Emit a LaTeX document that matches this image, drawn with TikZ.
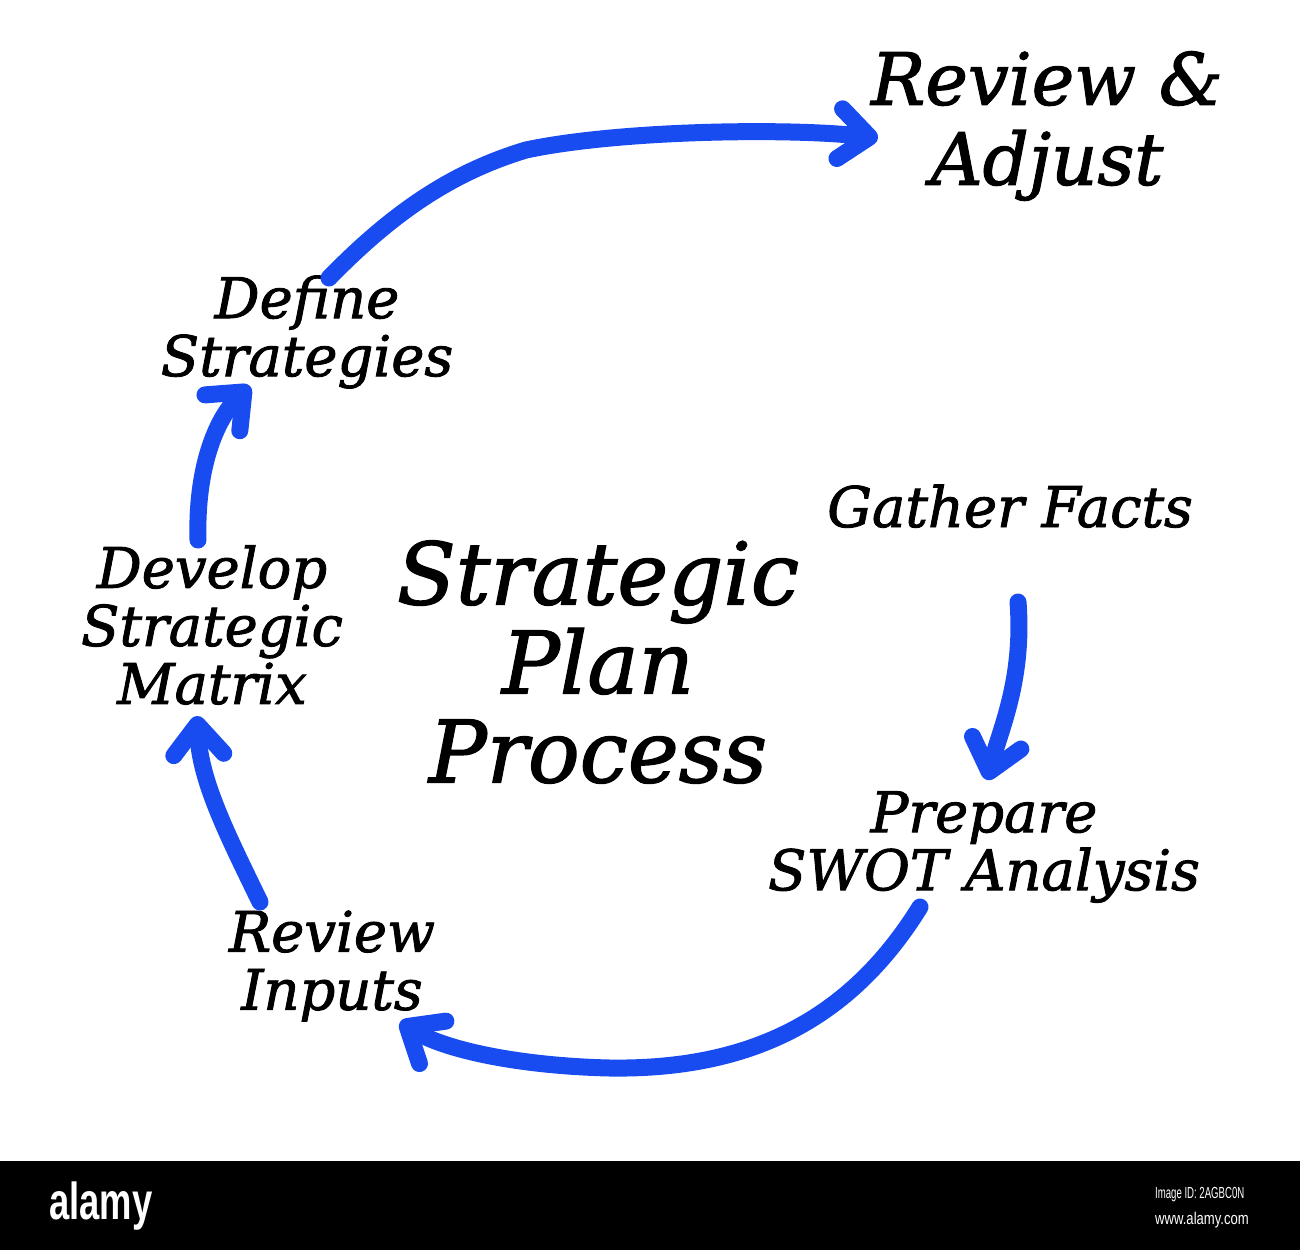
\documentclass[tikz,border=0pt]{standalone}
\usepackage{fontspec}
\setmainfont{DejaVu Serif}[ItalicFeatures={FakeBold=1.6}]
\newfontfamily\wmfont{Liberation Sans}
\usetikzlibrary{arrows.meta}
\definecolor{arrowblue}{RGB}{24,76,240}
\begin{document}
\begin{tikzpicture}[x=1pt,y=-1pt,
  lbl/.style={font=\itshape\fontsize{56}{58}\selectfont, align=center, inner sep=0pt, text=black},
  biglbl/.style={lbl, font=\itshape\fontsize{72}{80}\selectfont},
  titlelbl/.style={lbl, font=\itshape\fontsize{86}{89}\selectfont},
  flow/.style={draw=arrowblue, line width=17pt, line cap=round,
    -{Straight Barb[length=30pt,width=50pt,line cap=round,line join=round]}},
  wm/.style={inner sep=0pt, text=white},
]
\useasboundingbox (0,0) rectangle (1300,1250);
\fill[white] (0,0) rectangle (1300,1250);

% labels
\node[biglbl] (adjust) at (1047,126) {Review \&\\Adjust};
\node[lbl] (define) at (307,332) {Define\\Strategies};
\node[lbl] (develop) at (212,625) {Develop\\Strategic\\Matrix};
\node[titlelbl] (title) at (598,662) {Strategic\\Plan\\Process};
\node[lbl, anchor=base] (gather) at (1010,527) {Gather Facts};
\node[lbl] (swot) at (984,847) {Prepare\\SWOT Analysis};
\node[lbl] (inputs) at (332,966) {Review\\Inputs};

% connector end points
\coordinate (define-out) at (329,278);
\coordinate (adjust-in) at (878,138);
\coordinate (develop-out) at (198,540);
\coordinate (define-in) at (250,386);
\coordinate (inputs-out) at (260,902);
\coordinate (develop-in) at (197,716);
\coordinate (swot-out) at (920,907);
\coordinate (inputs-in) at (400,1022);
\coordinate (gather-out) at (1018,602);
\coordinate (swot-in) at (987,780);

% connectors
\draw[flow] (define-out) .. controls (400,205) and (460,170) .. (526,150)
  .. controls (620,130) and (790,128) .. (adjust-in);
\draw[flow] (develop-out) .. controls (196,470) and (215,420) .. (define-in);
\draw[flow] (inputs-out) .. controls (225,830) and (200,780) .. (develop-in);
\draw[flow] (swot-out) .. controls (850,1020) and (750,1070) .. (610,1068)
  .. controls (520,1066) and (445,1050) .. (inputs-in);
\draw[flow] (gather-out) .. controls (1024,680) and (1000,730) .. (swot-in);

% footer bar
\fill[black] (0,1161) rectangle (1300,1250);
\node[wm, anchor=base west, font=\wmfont\bfseries\fontsize{52}{52}\selectfont] (brand) at (49,1219) {\scalebox{0.7}[1]{alamy}};
\node[wm, anchor=base west, font=\wmfont\fontsize{16}{16}\selectfont] (imgid) at (1155,1198) {\scalebox{0.6}[1]{Image ID: 2AGBC0N}};
\node[wm, anchor=base west, font=\wmfont\fontsize{17}{17}\selectfont] (site) at (1155,1224) {\scalebox{0.77}[1]{www.alamy.com}};
\end{tikzpicture}
\end{document}
